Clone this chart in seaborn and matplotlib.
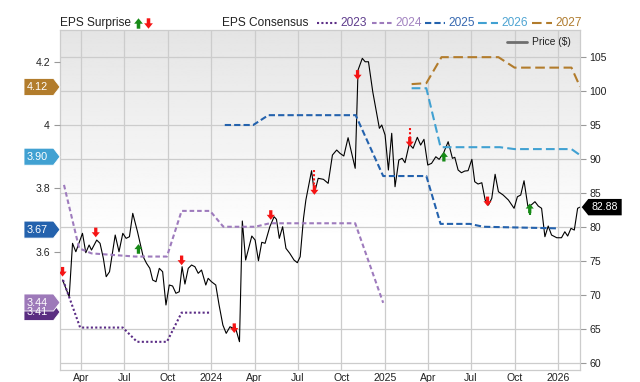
import numpy as np
import pandas as pd
import matplotlib
matplotlib.use("Agg")
import matplotlib.pyplot as plt
from matplotlib.path import Path
from matplotlib.patches import Polygon
from matplotlib.lines import Line2D
import seaborn as sns

sns.set_style("white")
plt.rcParams['font.family'] = ['Liberation Sans', 'DejaVu Sans']

# ---------------- data ----------------
price_dates = [
    "2023-02-21", "2023-03-07", "2023-03-14", "2023-03-21", "2023-04-04", "2023-04-11", "2023-04-18",
    "2023-04-23", "2023-05-04", "2023-05-11", "2023-05-18", "2023-05-24", "2023-05-31", "2023-06-12",
    "2023-06-20", "2023-06-28", "2023-07-05", "2023-07-12", "2023-07-19", "2023-07-29", "2023-08-10",
    "2023-08-17", "2023-08-24", "2023-08-30", "2023-09-06", "2023-09-13", "2023-09-20", "2023-09-27",
    "2023-10-04", "2023-10-11", "2023-10-18", "2023-10-25", "2023-10-31", "2023-11-06", "2023-11-13",
    "2023-11-20", "2023-11-27", "2023-12-04", "2023-12-11", "2023-12-20", "2023-12-25", "2024-01-01",
    "2024-01-10", "2024-01-17", "2024-01-25", "2024-02-01", "2024-02-09", "2024-02-16", "2024-02-20",
    "2024-02-29", "2024-03-06", "2024-03-13", "2024-03-26", "2024-04-02", "2024-04-09", "2024-04-16",
    "2024-04-23", "2024-05-03", "2024-05-12", "2024-05-17", "2024-05-23", "2024-05-30", "2024-06-06",
    "2024-06-14", "2024-06-23", "2024-06-30", "2024-07-06", "2024-07-13", "2024-07-18", "2024-07-30",
    "2024-08-05", "2024-08-13", "2024-08-24", "2024-09-03", "2024-09-12", "2024-09-21", "2024-09-28",
    "2024-10-06", "2024-10-15", "2024-10-30", "2024-11-05", "2024-11-14", "2024-11-20", "2024-11-27",
    "2024-12-06", "2024-12-20", "2024-12-25", "2025-01-01", "2025-01-08", "2025-01-15", "2025-01-22",
    "2025-01-30", "2025-02-06", "2025-02-12", "2025-02-21", "2025-03-01", "2025-03-10", "2025-03-17",
    "2025-03-24", "2025-04-01", "2025-04-09", "2025-04-18", "2025-04-25", "2025-05-04", "2025-05-14",
    "2025-05-23", "2025-05-28", "2025-06-04", "2025-06-11", "2025-06-18", "2025-06-25", "2025-07-03",
    "2025-07-09", "2025-07-16", "2025-07-24", "2025-07-31", "2025-08-07", "2025-08-14", "2025-08-21",
    "2025-08-28", "2025-09-07", "2025-09-18", "2025-09-30", "2025-10-07", "2025-10-14", "2025-10-21",
    "2025-10-29", "2025-11-05", "2025-11-13", "2025-11-20", "2025-11-27", "2025-12-04", "2025-12-11",
    "2025-12-18", "2025-12-29", "2026-01-08", "2026-01-15", "2026-01-21", "2026-01-28", "2026-02-04",
    "2026-02-11", "2026-02-16",
]
price_values = [
    72.16, 69.71, 77.56, 76.32, 79.03, 76.18, 77.31,
    76.57, 78.04, 77.56, 75.35, 72.65, 73.38, 78.78,
    76.32, 79.03, 78.29, 78.53, 81.97, 79.26, 75.59,
    74.62, 73.88, 72.16, 71.91, 73.88, 73.38, 68.49,
    71.43, 71.28, 70.21, 70.44, 74.12, 71.57, 73.88,
    74.37, 74.12, 73.15, 73.63, 71.43, 72.41, 71.91,
    71.43, 68.49, 65.54, 64.32, 65.29, 65.06, 65.29,
    63.09, 80.84, 75.10, 78.63, 78.04, 75.00, 77.71,
    77.56, 80.00, 81.47, 81.09, 78.29, 80.00, 76.82,
    76.09, 75.10, 74.71, 75.59, 81.24, 83.93, 88.24,
    84.91, 87.12, 86.97, 86.38, 90.54, 91.28, 90.79,
    90.40, 93.09, 88.59, 103.04, 104.76, 104.26, 104.26,
    99.85, 94.47, 94.96, 93.49, 88.34, 93.74, 85.88,
    89.81, 90.06, 89.41, 92.16, 91.53, 93.15, 92.01,
    92.85, 89.07, 89.32, 90.29, 89.91, 90.79, 92.50,
    90.06, 90.21, 88.34, 87.94, 88.19, 88.24, 89.91,
    86.62, 86.28, 86.47, 83.93, 83.19, 84.18, 87.71,
    85.15, 84.66, 83.93, 82.71, 84.41, 84.66, 86.76,
    83.04, 83.19, 83.68, 83.04, 82.71, 78.53, 80.10,
    78.78, 78.38, 78.38, 79.26, 78.63, 79.76, 79.51,
    82.71, 82.88,
]

cons_2023_dates = ["2023-02-22", "2023-03-30", "2023-06-28", "2023-07-28", "2023-09-29", "2023-10-30", "2023-12-29"]
cons_2023_eps = [3.511, 3.361, 3.361, 3.316, 3.316, 3.408, 3.408]

cons_2024_dates = ["2023-02-24", "2023-03-28", "2023-04-23", "2023-07-24", "2023-09-29", "2023-10-30",
                   "2023-12-29", "2024-01-26", "2024-04-02", "2024-05-03", "2024-10-30", "2024-12-28"]
cons_2024_eps = [3.811, 3.611, 3.595, 3.585, 3.585, 3.729, 3.729, 3.679, 3.679, 3.690, 3.690, 3.439]

cons_2025_dates = ["2024-01-29", "2024-03-29", "2024-04-30", "2024-10-31", "2024-12-28", "2025-03-29",
                   "2025-04-28", "2025-06-29", "2025-07-27", "2025-12-29"]
cons_2025_eps = [4.000, 4.000, 4.031, 4.031, 3.839, 3.839, 3.688, 3.688, 3.679, 3.674]

cons_2026_dates = ["2025-02-26", "2025-03-29", "2025-04-28", "2025-08-31", "2025-10-01", "2026-01-29", "2026-02-16"]
cons_2026_eps = [4.116, 4.116, 3.930, 3.930, 3.924, 3.924, 3.905]

cons_2027_dates = ["2025-02-26", "2025-03-29", "2025-04-30", "2025-08-28", "2025-10-01", "2026-01-29", "2026-02-16"]
cons_2027_eps = [4.129, 4.132, 4.214, 4.214, 4.181, 4.181, 4.121]

surprise_dates = ["2023-02-21", "2023-05-02", "2023-07-31", "2023-10-30", "2024-02-18", "2024-05-05",
                  "2024-08-05", "2024-11-04", "2025-02-22", "2025-05-05", "2025-08-05", "2025-11-02"]
surprise_eps = [3.537, 3.661, 3.609, 3.573, 3.359, 3.716, 3.795, 4.158, 3.947, 3.900, 3.759, 3.737]
surprise_dir = ["down", "down", "up", "down", "down", "down", "down", "down", "down", "up", "down", "up"]

stem_dates = ["2024-08-05", "2025-02-22", "2025-11-02"]
stem_start = [3.858, 3.990, 3.715]
stem_end = [3.795, 3.947, 3.737]
stem_dir = ["down", "down", "up"]

quarter_ticks = ["2023-04-01", "2023-07-01", "2023-10-01", "2024-01-01", "2024-04-01", "2024-07-01",
                 "2024-10-01", "2025-01-01", "2025-04-01", "2025-07-01", "2025-10-01", "2026-01-01"]
quarter_labels = ["Apr", "Jul", "Oct", "2024", "Apr", "Jul", "Oct", "2025", "Apr", "Jul", "Oct", "2026"]

price_ticks = [60, 65, 70, 75, 80, 85, 90, 95, 100, 105]
eps_ticks = [3.6, 3.8, 4.0, 4.2]
eps_tick_labels = ["3.6", "3.8", "4", "4.2"]

tag_values = [3.41, 3.44, 3.67, 3.90, 4.12]
tag_labels = ["3.41", "3.44", "3.67", "3.90", "4.12"]
last_price = 82.88

years = ["2023", "2024", "2025", "2026", "2027"]
colors = {"2023": "#5b2d86", "2024": "#9e7bbd", "2025": "#2462ad", "2026": "#41a1d2", "2027": "#b27c2c"}
text_colors = {"2023": "#5e3c8c", "2024": "#a283c0", "2025": "#3668b0", "2026": "#4ea4d2", "2027": "#b07d31"}
styles = {"2023": (0, (1, 1.1)), "2024": (0, (2.2, 1.4)), "2025": (0, (3.0, 1.5)),
          "2026": (0, (4.2, 2.0)), "2027": (0, (4.6, 2.2))}
tag_colors = ["#5a2d81", "#9d79b9", "#2462ad", "#41a1d2", "#b27c2c"]
UP_COLOR = "#178a17"
DOWN_COLOR = "#f51414"

# ---------------- figure ----------------
W, H = 640, 382
fig = plt.figure(figsize=(W / 100, H / 100), dpi=100)
rect = [60 / W, (H - 370) / H, 520 / W, 340 / H]

bg = fig.add_axes(rect, zorder=-5)
t = np.linspace(0, 1, 300)
vals = 0.895 + 0.105 * np.clip(t / 0.62, 0, 1)
bg.imshow(vals[:, None], aspect="auto", cmap="gray", vmin=0, vmax=1, extent=[0, 1, 0, 1], origin="upper")
bg.set_axis_off()

ax = fig.add_axes(rect)
ax.set_facecolor("none")

pdates = pd.to_datetime(price_dates)
sns.lineplot(x=pdates, y=price_values, ax=ax, color="black", lw=0.8, estimator=None, sort=False)

ax.set_xlim(pd.Timestamp("2023-02-15 14:00"), pd.Timestamp("2026-02-16"))
ax.set_ylim(58.93, 108.93)

ax2 = ax.twinx()
ax2.set_ylim(3.2271, 4.2997)

for y in years:
    d = pd.to_datetime(globals()[f"cons_{y}_dates"])
    e = globals()[f"cons_{y}_eps"]
    sns.lineplot(x=d, y=e, ax=ax2, color=colors[y], lw=1.5, linestyle=styles[y],
                 estimator=None, sort=False)

down_path = Path([(-0.17, 0.5), (0.17, 0.5), (0.17, 0.02), (0.42, 0.02), (0, -0.5),
                  (-0.42, 0.02), (-0.17, 0.02), (-0.17, 0.5)],
                 [Path.MOVETO] + [Path.LINETO] * 6 + [Path.CLOSEPOLY])
up_path = Path([(x, -y) for x, y in down_path.vertices], down_path.codes)

for (sd, s0, s1, sdir) in zip(stem_dates, stem_start, stem_end, stem_dir):
    ax2.plot([pd.Timestamp(sd)] * 2, [s0, s1], color=UP_COLOR if sdir == "up" else DOWN_COLOR,
             lw=1.5, linestyle=(0, (1, 1)))

sdates = pd.to_datetime(surprise_dates)
for kind, mk, col in [("down", down_path, DOWN_COLOR), ("up", up_path, UP_COLOR)]:
    idx = [i for i, k in enumerate(surprise_dir) if k == kind]
    sns.scatterplot(x=sdates[idx], y=[surprise_eps[i] for i in idx], ax=ax2, marker=mk,
                    s=48, color=col, edgecolor="none", linewidth=0, zorder=5)

# axes styling
for a in (ax, ax2):
    a.set_xlabel("")
    a.set_ylabel("")
ax.grid(True, color="#cccccc", lw=0.9)
ax.set_axisbelow(True)
for sp in ax.spines.values():
    sp.set_color("#cccccc")
    sp.set_linewidth(0.9)
for sp in ax2.spines.values():
    sp.set_visible(False)

ax.set_xticks(pd.to_datetime(quarter_ticks))
ax.set_xticklabels(quarter_labels)
ax.tick_params(axis="x", length=0, pad=2.2, labelsize=7.6, labelcolor="#222222")

ax.yaxis.tick_right()
ax.set_yticks(price_ticks)
ax.set_yticklabels([str(v) for v in price_ticks])
ax.tick_params(axis="y", right=True, left=False, labelright=True, labelleft=False,
               length=4.3, width=0.8, color="#999999", pad=2.4, labelsize=7.6, labelcolor="#222222")

ax2.yaxis.tick_left()
ax2.set_yticks(eps_ticks)
ax2.set_yticklabels(eps_tick_labels)
ax2.tick_params(axis="y", left=True, right=False, labelleft=True, labelright=False,
                length=4.3, width=0.8, color="#999999", pad=2.9, labelsize=7.6, labelcolor="#222222")

# value tags (left, EPS)
eps_per_px = (4.2997 - 3.2271) / 340
ytr2 = ax2.get_yaxis_transform()
for v, lab, col in zip(tag_values, tag_labels, tag_colors):
    hh = 8.5 * eps_per_px
    x0, xs, xt = -36 / 520, -6.5 / 520, 0.0
    poly = Polygon([(x0, v - hh), (xs, v - hh), (xt, v), (xs, v + hh), (x0, v + hh)],
                   closed=True, transform=ytr2, clip_on=False, facecolor=col,
                   edgecolor="white", lw=0.6, zorder=10)
    ax2.add_patch(poly)
    ax2.text(-23 / 520, v, lab, transform=ytr2, ha="center", va="center", color="white",
             fontsize=7.8, clip_on=False, zorder=11)

# last price tag (right)
price_per_px = 50 / 340
ytr = ax.get_yaxis_transform()
hh = 8.2 * price_per_px
xt, xs, x1 = 1.7 / 520, 8.3 / 520, 41.7 / 520
poly = Polygon([(1 + xt, last_price), (1 + xs, last_price - hh), (1 + x1, last_price - hh),
                (1 + x1, last_price + hh), (1 + xs, last_price + hh)],
               closed=True, transform=ytr, clip_on=False, facecolor="black", edgecolor="none", zorder=10)
ax.add_patch(poly)
ax.text(1 + 25 / 520, last_price, f"{last_price:.2f}", transform=ytr, ha="center", va="center",
        color="white", fontsize=7.6, clip_on=False, zorder=11)

# header legend
def fy(y):
    return 1 - y / H

def fx(x):
    return x / W

hy = fy(23)
fig.text(fx(60), hy, "EPS Surprise", ha="left", va="center", fontsize=8.6, color="#222222")
fig.add_artist(Line2D([fx(138)], [hy], marker=up_path, markersize=7.5, color=UP_COLOR,
                      markeredgewidth=0, transform=fig.transFigure))
fig.add_artist(Line2D([fx(147.5)], [hy], marker=down_path, markersize=7.5, color=DOWN_COLOR,
                      markeredgewidth=0, transform=fig.transFigure))
fig.text(fx(222), hy, "EPS Consensus", ha="left", va="center", fontsize=8.6, color="#222222")
sample_x = {"2023": 317, "2024": 372, "2025": 425, "2026": 478, "2027": 532}
for y in years:
    x0 = sample_x[y]
    fig.add_artist(Line2D([fx(x0), fx(x0 + 20)], [hy, hy], color=colors[y], lw=1.5,
                          linestyle=styles[y], transform=fig.transFigure))
    fig.text(fx(x0 + 23), hy, y, ha="left", va="center", fontsize=8.6, color=text_colors[y])

fig.add_artist(Line2D([fx(507), fx(527)], [fy(42), fy(42)], color="#6e6e6e", lw=2,
                      transform=fig.transFigure))
fig.text(fx(532), fy(42), "Price ($)", ha="left", va="center", fontsize=7.4, color="#222222")

fig.savefig("out.png", dpi=100)
